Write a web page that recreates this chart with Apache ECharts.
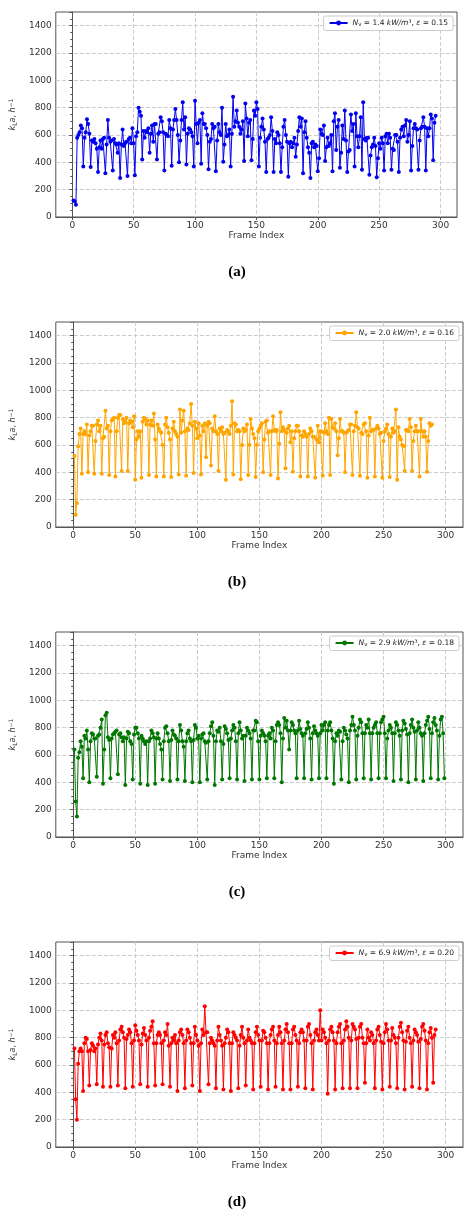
<!DOCTYPE html><html><head><meta charset="utf-8"><script src="https://cdn.jsdelivr.net/npm/echarts@6/dist/echarts.min.js"></script></head><body style="margin:0;background:#fff"><div id="c" style="width:474px;height:1225px"></div><script>
const seriesA=[120,115,90,580,600,620,670,650,370,580,620,715,680,610,365,560,550,570,540,500,330,510,560,500,570,580,320,530,710,580,550,560,340,570,540,530,470,540,285,530,640,520,540,550,300,570,580,540,650,540,305,590,620,800,770,740,420,630,580,630,620,650,470,610,670,550,680,680,420,610,620,730,700,620,340,610,600,590,710,650,375,640,710,790,710,600,400,560,710,840,640,730,385,610,650,640,620,590,370,850,680,540,690,710,390,760,680,680,650,600,350,550,570,680,650,660,335,560,680,620,600,800,405,530,680,590,600,640,370,610,880,660,700,780,690,660,610,640,700,410,830,720,590,690,710,415,570,780,740,840,790,370,580,660,720,640,550,330,570,580,600,730,630,330,570,540,620,600,540,330,510,660,710,600,550,295,540,550,510,540,580,440,530,630,730,660,720,320,620,700,580,510,470,285,540,550,510,530,520,335,430,640,610,600,670,410,510,580,520,540,600,335,700,760,490,660,710,360,470,670,570,780,560,330,480,490,750,630,680,370,760,590,510,590,730,345,840,570,560,580,580,310,450,510,530,580,520,290,430,540,500,580,540,340,590,610,540,610,580,345,500,490,600,600,550,330,580,640,660,590,670,710,550,600,700,340,520,650,680,650,640,345,560,650,660,730,660,340,650,590,650,750,720,415,690,740];
const seriesB=[520,90,175,590,680,720,390,680,700,680,750,400,670,700,740,740,390,630,750,780,700,740,390,650,660,850,720,740,380,700,780,790,800,370,700,800,820,820,410,790,760,770,800,410,760,780,770,730,810,345,640,700,660,700,360,770,800,790,750,780,380,750,780,740,830,640,370,750,720,700,690,600,370,750,800,730,690,640,365,720,770,700,680,660,385,860,690,780,850,700,375,720,710,760,900,740,395,770,720,650,760,670,385,740,700,760,510,740,770,760,450,720,700,810,700,680,410,720,700,730,680,690,345,710,700,680,740,920,385,760,750,700,710,700,350,600,720,700,710,750,380,600,790,720,680,650,365,600,700,720,740,760,400,640,770,780,690,700,380,700,810,710,700,710,355,610,840,700,730,710,430,690,720,740,620,700,405,650,700,740,740,700,370,670,660,700,680,660,370,680,720,700,660,660,360,640,740,620,700,700,375,690,760,700,680,800,380,790,730,720,760,700,525,650,790,700,700,690,400,690,700,710,750,750,380,700,740,840,730,720,375,690,680,750,760,700,360,670,800,700,710,710,370,720,740,720,680,690,360,630,700,720,750,680,365,660,720,690,700,860,345,730,660,640,600,590,410,710,710,700,790,730,410,630,700,740,700,700,370,790,700,660,700,660,405,630,760,740,750];
const seriesC=[640,260,150,580,620,700,660,430,740,720,780,640,400,700,760,750,720,720,440,740,750,800,860,390,640,890,910,730,710,430,720,750,760,770,780,460,750,760,730,700,730,380,720,770,760,700,680,420,750,800,800,760,720,390,740,720,700,680,700,380,700,720,780,760,730,390,720,760,720,680,640,420,700,800,810,760,700,410,710,780,750,740,720,420,700,820,780,700,660,410,700,760,780,720,700,400,710,820,800,720,740,400,720,750,760,700,690,420,700,760,810,840,740,380,700,780,770,800,700,420,680,810,790,760,710,430,720,780,820,800,700,420,760,840,780,720,740,410,740,800,780,760,720,420,780,780,850,840,700,420,740,780,760,740,700,430,740,760,720,800,780,430,700,820,840,820,760,400,720,870,800,850,780,640,780,840,820,780,760,430,780,850,790,760,740,430,760,790,840,800,720,420,760,810,780,760,740,430,760,820,780,820,840,430,780,820,840,780,720,390,700,760,740,780,770,420,700,800,780,750,720,400,780,820,880,820,780,420,740,800,860,840,760,430,760,820,800,860,760,420,760,800,820,840,760,430,760,840,860,880,760,430,720,780,820,800,760,410,760,840,820,780,740,420,780,850,830,790,750,400,760,820,860,800,770,420,780,840,800,760,740,410,760,820,850,880,790,430,760,840,870,820,780,420,740,860,880,760,430,720];
const seriesD=[720,350,200,610,700,720,700,410,760,800,790,700,450,710,760,740,700,720,460,750,800,830,780,440,750,820,840,760,730,440,720,820,800,840,760,450,780,860,880,840,800,430,790,820,860,840,760,440,780,890,850,820,780,460,750,830,870,820,780,440,800,850,880,920,760,450,760,820,840,820,760,460,780,840,820,900,740,440,760,800,780,820,760,410,780,840,860,820,760,430,780,860,840,800,760,450,760,880,820,780,740,410,760,860,820,1030,840,840,460,760,800,780,760,740,430,780,880,820,780,740,420,760,800,860,840,760,410,760,840,820,800,780,430,740,820,880,800,760,450,780,860,800,780,760,420,760,840,880,820,780,440,780,850,840,800,760,420,760,820,860,880,780,440,760,820,880,840,760,420,780,860,900,840,760,420,760,860,880,820,780,440,760,840,860,840,780,430,780,880,900,820,760,420,780,840,860,820,780,1000,780,860,840,800,760,390,780,860,880,840,780,420,760,840,880,900,760,430,780,860,920,880,800,430,780,900,880,860,790,430,800,880,900,800,760,470,760,860,800,780,840,820,760,430,780,860,880,820,770,420,760,840,900,860,780,440,780,870,820,800,760,430,800,880,910,840,780,420,770,850,880,800,760,440,780,860,840,820,770,430,790,880,900,850,780,420,760,840,870,800,470,820,860];
const legendLabels=['1.4','2.0','2.9','6.9'];const epsLabels=['0.15','0.16','0.18','0.20'];
const captions=['(a)','(b)','(c)','(d)'];
const xTicks=[0,50,100,150,200,250,300];
const colors=['#0000ee','#ffa500','#007700','#ff0000'];
const all=[seriesA,seriesB,seriesC,seriesD].map(s=>s.slice(0,299));
const tops=[12,322,632,942];const lefts=[43,48,48,48];const widths=[414,415,415,415];
const x0=[-13.4,-14,-14,-14];const x1=[313.4,314,314,314];
const grids=[],xA=[],yA=[],ser=[],titles=[],legends=[];
const ax={color:'#333',fontSize:9,fontFamily:'DejaVu Sans'};
all.forEach((d,k)=>{
 grids.push({left:lefts[k],top:tops[k],width:widths[k],height:205,show:true,borderColor:'#555',borderWidth:1});
 xA.push({type:'value',gridIndex:k,min:x0[k],max:x1[k],name:'Frame Index',nameLocation:'middle',nameGap:14,nameTextStyle:ax,
  axisLabel:Object.assign({margin:4,customValues:xTicks},ax),axisTick:{length:3,customValues:xTicks},
  splitLine:{show:true,lineStyle:{type:'dashed',color:'#ccc'}},axisLine:{onZero:false,lineStyle:{color:'#555'}}});
 yA.push({type:'value',gridIndex:k,min:0,max:1500,interval:200,name:'{i|k}{s|L}{i|a}, {i|h}{p|\u22121}',nameLocation:'middle',nameGap:24,nameRotate:90,
  nameTextStyle:{color:'#333',fontSize:8,fontFamily:'DejaVu Sans',rich:{i:{fontStyle:'italic',fontSize:8},s:{fontSize:6,verticalAlign:'bottom',padding:[4,0,0,0]},p:{fontSize:6,verticalAlign:'top',padding:[0,0,4,0]}}},
  axisLabel:Object.assign({margin:4,formatter:v=>v<=1400?v:''},ax),axisTick:{length:3},minorTick:{show:true,splitNumber:4,length:2},
  splitLine:{lineStyle:{type:'dashed',color:'#ccc'},showMaxLine:false},axisLine:{show:true,lineStyle:{color:'#555'}}});
 const name='N'+k;
 ser.push({type:'line',name:name,xAxisIndex:k,yAxisIndex:k,data:d.map((v,i)=>[i+1,v]),symbol:'circle',symbolSize:4,showSymbol:true,
  lineStyle:{width:1,color:colors[k]},itemStyle:{color:colors[k]},animation:false});
 legends.push({data:[name],top:tops[k]+4,right:474-lefts[k]-widths[k]+4,orient:'vertical',backgroundColor:'#fff',borderColor:'#ccc',borderWidth:1,borderRadius:2,padding:[3,5],itemWidth:18,itemHeight:6,
  formatter:()=>`{i|N}{s|v} = ${legendLabels[k]} {i|kW/m}\u00B3, {i|\u03B5} = ${epsLabels[k]}`,
  textStyle:{fontSize:7.5,color:'#222',fontFamily:'DejaVu Sans',rich:{i:{fontStyle:'italic',fontSize:7.5},s:{fontSize:5.5,verticalAlign:'bottom',padding:[3,0,0,0]}}}});
 titles.push({text:captions[k],left:'center',top:tops[k]+248,textStyle:{fontSize:15,fontWeight:'bold',fontFamily:'Liberation Serif',color:'#000'}});
});
const ch=echarts.init(document.getElementById('c'));
ch.setOption({animation:false,grid:grids,xAxis:xA,yAxis:yA,series:ser,legend:legends,title:titles});
</script></body></html>
